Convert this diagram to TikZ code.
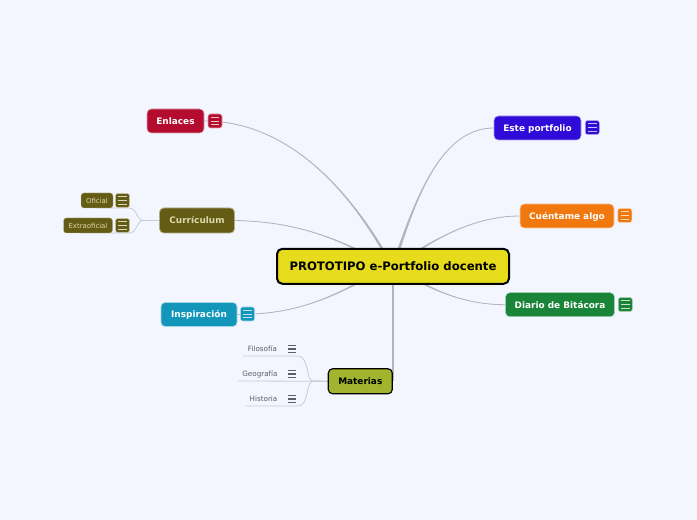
\documentclass[tikz,border=0pt]{standalone}
\usepackage{fontspec}
\setmainfont{DejaVu Sans}
\usetikzlibrary{calc}
\pgfdeclarelayer{pagebg}
\pgfdeclarelayer{conn}
\pgfsetlayers{pagebg,conn,main}
\definecolor{pagecol}{HTML}{F3F6FF}
\definecolor{linkcol}{HTML}{B4B4BA}
\definecolor{sublink}{HTML}{C8CAD6}
\definecolor{enl}{HTML}{B30C2E}
\definecolor{cur}{HTML}{645C14}
\definecolor{curt}{HTML}{DDD9AE}
\definecolor{ins}{HTML}{1297BB}
\definecolor{est}{HTML}{2E0BD9}
\definecolor{cue}{HTML}{F0780F}
\definecolor{dia}{HTML}{1A8538}
\definecolor{mat}{HTML}{A0B42E}
\definecolor{rootc}{HTML}{E6DC1C}
\definecolor{subt}{HTML}{5C5D66}
\def\px{0.75pt}
\tikzset{
  x=0.75pt,y=-0.75pt,
  topic/.style={rounded corners=3.2pt,inner sep=0pt,align=center,text height=5.1pt,text depth=0pt,font=\fontsize{6.7}{9}\selectfont\bfseries,text=white},
  leaf/.style={topic,fill=cur,draw=cur!40!white,line width=0.3pt,minimum height=15*\px,font=\fontsize{5.2}{7}\selectfont,text=curt,rounded corners=2pt,text height=3.9pt},
  iconbox/.style={rounded corners=1.8pt,minimum width=14*\px,minimum height=14*\px,inner sep=0pt,fill=#1,draw=#1!40!white,line width=0.4pt,
    path picture={\foreach \dy in {-2.7,0,2.7}{\draw[white!75!#1,line width=0.6pt]
      ([xshift=-3.2pt,yshift=\dy pt]path picture bounding box.center) -- ([xshift=3.2pt,yshift=\dy pt]path picture bounding box.center);}}},
  plainicon/.style={minimum width=9*\px,minimum height=9*\px,inner sep=0pt,
    path picture={\foreach \dy in {-2.5,0,2.5}{\draw[subt,line width=0.8pt]
      ([xshift=-3.1pt,yshift=\dy pt]path picture bounding box.center) -- ([xshift=3.1pt,yshift=\dy pt]path picture bounding box.center);}}},
  taperline/.style={fill=linkcol,draw=linkcol,line width=0.6pt},
  subline/.style={draw=sublink,line width=0.6pt},
  sublabel/.style={inner sep=0pt,font=\fontsize{5.4}{7}\selectfont,text=subt},
}
\newcommand\taper[5]{%
  \draw[taperline] (#1) .. controls (#2) and (#3) .. ([xshift=-#5 pt]#4) -- ([xshift=#5 pt]#4) .. controls (#3) and (#2) .. (#1);}
\begin{document}
\begin{tikzpicture}
\begin{pgfonlayer}{pagebg}
\fill[pagecol] (0,0) rectangle (697,520);
\end{pgfonlayer}
\path[use as bounding box] (0,0) rectangle (697,520);

% central topic
\node[rounded corners=4pt,draw=black,line width=1.5pt,fill=rootc,minimum width=232*\px,minimum height=35*\px,inner sep=0pt,font=\fontsize{8.75}{10}\selectfont\bfseries,text=black] (root) at (393,266.3) {PROTOTIPO e-Portfolio docente};

% main topics
\node[topic,fill=enl,draw=enl!40!white,line width=0.4pt,minimum width=57*\px,minimum height=24*\px] (enlaces) at (175.5,121) {Enlaces};
\node[iconbox=enl] (enlacesicon) at (215,121) {};

\node[topic,fill=cur,draw=cur!50!white,line width=0.6pt,minimum width=75*\px,minimum height=25*\px,text=curt] (curriculum) at (197,220.5) {Currículum};
\node[leaf,minimum width=32*\px] (oficial) at (97,200.5) {Oficial};
\node[iconbox=cur] (oficialicon) at (122.5,200.5) {};
\node[leaf,minimum width=49*\px] (extra) at (88,225.5) {Extraoficial};
\node[iconbox=cur] (extraicon) at (122.5,225.5) {};

\node[topic,fill=ins,draw=ins!40!white,line width=0.4pt,minimum width=76*\px,minimum height=24*\px] (insp) at (199,314.5) {Inspiración};
\node[iconbox=ins] (inspicon) at (247.5,314) {};

\node[topic,fill=est,draw=est!40!white,line width=0.4pt,minimum width=87*\px,minimum height=24*\px] (este) at (537.5,128) {Este portfolio};
\node[iconbox=est] (esteicon) at (592.3,127.5) {};

\node[topic,fill=cue,draw=cue!40!white,line width=0.4pt,minimum width=94*\px,minimum height=24*\px] (cuent) at (567,216) {Cuéntame algo};
\node[iconbox=cue] (cuenticon) at (624.8,215.5) {};

\node[topic,fill=dia,draw=dia!40!white,line width=0.4pt,minimum width=109*\px,minimum height=24*\px] (diario) at (560,304.7) {Diario de Bitácora};
\node[iconbox=dia] (diarioicon) at (625.3,304.5) {};

\node[topic,fill=mat,draw=black,line width=0.85pt,minimum width=64*\px,minimum height=25*\px,text=black] (materias) at (360.3,381.3) {Materias};

% subtopics of Materias
\node[sublabel] (filo) at (262.5,349) {Filosofía};
\node[plainicon] (filoicon) at (292,349) {};
\node[sublabel] (geo) at (260,374) {Geografía};
\node[plainicon] (geoicon) at (292,374) {};
\node[sublabel] (hist) at (263.5,399) {Historia};
\node[plainicon] (histicon) at (292,399) {};

% free ends and entry points
\coordinate (rEn) at (384,252);
\coordinate (rCu) at (362,252);
\coordinate (rIn) at (360,282);
\coordinate (rEs) at (398,252);
\coordinate (rCe) at (416,252);
\coordinate (rDi) at (420,282);
\coordinate (fEnd) at (243,356);
\coordinate (gEnd) at (238,381);
\coordinate (hEnd) at (245,406);
\coordinate (mJoin) at (313,381);
\coordinate (cJoin) at (143,220.5);
\coordinate (oEnd) at (96,208);
\coordinate (eEnd) at (80,233);

\begin{pgfonlayer}{conn}
\taper{enlaces.east}{$(enlaces.east)+(85,0)$}{$(rEn)+(-35,-60)$}{rEn}{0.8}
\taper{curriculum.east}{$(curriculum.east)+(55,1)$}{$(rCu)+(-35,-17)$}{rCu}{0.8}
\taper{insp.east}{$(insp.east)+(55,0)$}{$(rIn)+(-35,18)$}{rIn}{0.8}
\taper{este.west}{$(este.west)+(-50,0)$}{$(rEs)+(20,-60)$}{rEs}{0.8}
\taper{cuent.west}{$(cuent.west)+(-40,0)$}{$(rCe)+(28,-18)$}{rCe}{0.8}
\taper{diario.west}{$(diario.west)+(-30,0)$}{$(rDi)+(28,15)$}{rDi}{0.8}
\draw[linkcol,line width=1.5pt] (root.south -| materias.east) -- (materias.east);
% Curriculum branches
\draw[subline] (curriculum.west) -- (cJoin) .. controls (137,220.5) and (137,208) .. (129,208) -- (oEnd);
\draw[subline] (curriculum.west) -- (cJoin) .. controls (137,220.5) and (137,233) .. (129,233) -- (eEnd);
% Materias branches
\draw[subline] (materias.west) -- (mJoin) .. controls (306,381) and (309,356) .. (298,356) -- (fEnd);
\draw[subline] (materias.west) -- (gEnd);
\draw[subline] (materias.west) -- (mJoin) .. controls (306,381) and (309,406) .. (298,406) -- (hEnd);
\end{pgfonlayer}
\end{tikzpicture}
\end{document}
